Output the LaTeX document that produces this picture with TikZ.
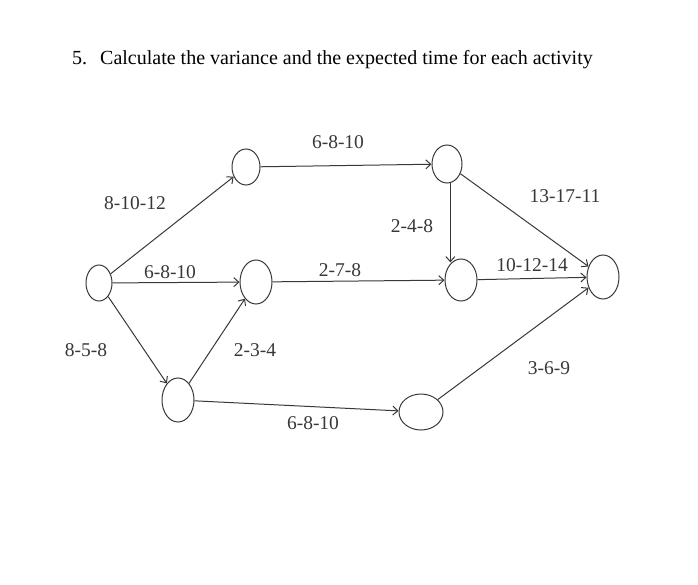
\documentclass[tikz,border=0pt]{standalone}
\usepackage{fontspec}
\setmainfont{Liberation Serif}
\usetikzlibrary{shapes,arrows,arrows.meta,positioning}
\definecolor{inkgray}{HTML}{383838}

\tikzset{
	event/.style={draw=inkgray, ellipse, inner sep=0pt, line width=1pt},
	activity/.style={draw=inkgray, line width=1pt, -{Straight Barb[length=5pt,width=9pt]}},
	times/.style={text=inkgray, font=\fontsize{19.5}{22}\selectfont, inner sep=0pt}
}

\begin{document}
\begin{tikzpicture}[x=1pt,y=-1pt]
			\useasboundingbox (0,0) rectangle (698,585);
			\node[anchor=base west, inner sep=0pt, font=\fontsize{20}{23}\selectfont] (title) at (72,65) {5.\hspace{13pt}Calculate the variance and the expected time for each activity};
			\node[event, minimum width=26pt, minimum height=36pt] (n1) at (99,283) {};
			\node[event, minimum width=28pt, minimum height=36pt] (n2) at (246,167) {};
			\node[event, minimum width=32pt, minimum height=44pt] (n3) at (256,282) {};
			\node[event, minimum width=30pt, minimum height=38pt] (n4) at (447,164) {};
			\node[event, minimum width=32pt, minimum height=42pt] (n5) at (461,280) {};
			\node[event, minimum width=32pt, minimum height=44pt] (n6) at (603,277) {};
			\node[event, minimum width=32pt, minimum height=44pt] (n7) at (178,400) {};
			\node[event, minimum width=44pt, minimum height=36pt] (n8) at (421,412) {};
			\draw[activity] (n1) -- (n2);
			\draw[activity] (n1) -- (n3);
			\draw[activity] (n1) -- (n7);
			\draw[activity] (n7) -- (n3);
			\draw[activity] (n7) -- (n8);
			\draw[activity] (n2) -- (n4);
			\draw[activity] (n3) -- (n5);
			\draw[activity] (n4.-80) -- (n4.-80 |- n5.118);
			\draw[activity] (n4) -- (n6);
			\draw[activity] (n5) -- (n6);
			\draw[activity] (n8) -- (n6);
			\node[times] (t12) at (135,203) {8-10-12};
			\node[times] (t13) at (170,272) {6-8-10};
			\node[times] (t17) at (86,350) {8-5-8};
			\node[times] (t73) at (255,350) {2-3-4};
			\node[times] (t78) at (313,423) {6-8-10};
			\node[times] (t24) at (338,142) {6-8-10};
			\node[times] (t35) at (340,270) {2-7-8};
			\node[times] (t45) at (412,226) {2-4-8};
			\node[times] (t46) at (565,196) {13-17-11};
			\node[times] (t56) at (532,265) {10-12-14};
			\node[times] (t86) at (549,368) {3-6-9};
\end{tikzpicture}
\end{document}
